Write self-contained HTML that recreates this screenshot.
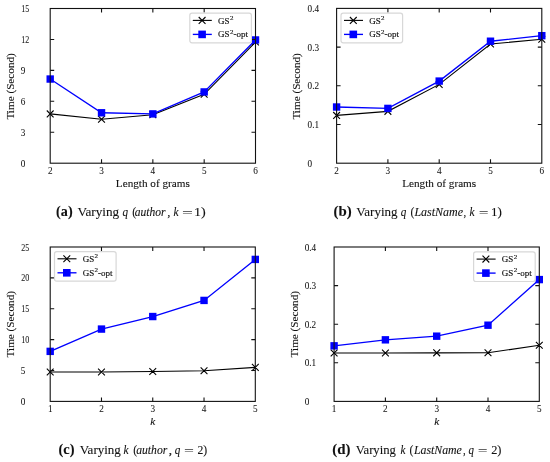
<!DOCTYPE html>
<html><head><meta charset="utf-8"><title>Figure</title><style>
html,body{margin:0;padding:0;background:#fff;}
body{width:550px;height:462px;overflow:hidden;}
svg{display:block;}
text{font-family:'Liberation Serif', 'Times New Roman', serif;fill:#111;stroke:#111;stroke-width:0.22;}
.ax{fill:none;stroke:#111;stroke-width:1.1;}
.tl{font-size:9.9px;stroke-width:0.05;}
.al{font-size:11.2px;stroke-width:0.1;}
.it{font-style:italic;}
.lk{fill:none;stroke:#000;stroke-width:1.1;}
.mk{fill:none;stroke:#000;stroke-width:1.1;}
.lb{fill:none;stroke:#0000ff;stroke-width:1.35;}
.lg{fill:#fff;stroke:#d8d8d8;stroke-width:1.2;}
.lt{font-size:9px;stroke-width:0.15;}
.sup{font-size:7px;}
.cp{font-size:13px;stroke-width:0.1;}
.cb{font-weight:bold;font-size:14.5px;}
.ci{font-style:italic;}
.eq{stroke-width:0;fill:#333;}
</style></head>
<body><svg width="550" height="462" viewBox="0 0 550 462">
<rect width="550" height="462" fill="#fff"/>
<g id="chart-a"><text x="20.8" y="166.75" class="tl" textLength="4.6" lengthAdjust="spacingAndGlyphs">0</text>
<text x="20.8" y="135.81" class="tl" textLength="4.6" lengthAdjust="spacingAndGlyphs">3</text>
<text x="20.8" y="104.87" class="tl" textLength="4.6" lengthAdjust="spacingAndGlyphs">6</text>
<text x="20.8" y="73.93" class="tl" textLength="4.6" lengthAdjust="spacingAndGlyphs">9</text>
<text x="21.3" y="42.99" class="tl" textLength="8" lengthAdjust="spacingAndGlyphs">12</text>
<text x="21.3" y="12.05" class="tl" textLength="8" lengthAdjust="spacingAndGlyphs">15</text>
<text x="47.9" y="174.4" class="tl" textLength="4.6" lengthAdjust="spacingAndGlyphs">2</text>
<text x="99.23" y="174.4" class="tl" textLength="4.6" lengthAdjust="spacingAndGlyphs">3</text>
<text x="150.55" y="174.4" class="tl" textLength="4.6" lengthAdjust="spacingAndGlyphs">4</text>
<text x="201.88" y="174.4" class="tl" textLength="4.6" lengthAdjust="spacingAndGlyphs">5</text>
<text x="253.2" y="174.4" class="tl" textLength="4.6" lengthAdjust="spacingAndGlyphs">6</text>
<text x="152.85" y="187.1" class="al" text-anchor="middle">Length of grams</text>
<text transform="translate(13.6 86.4) rotate(-90)" class="al" text-anchor="middle">Time (Second)</text>
<polyline points="50.2,113.9 101.53,119.27 152.85,114.73 204.18,94.31 255.5,42.02" class="lk"/>
<path d="M46.8 110.5l6.8 6.8M46.8 117.3l6.8 -6.8M98.12 115.87l6.8 6.8M98.12 122.67l6.8 -6.8M149.45 111.33l6.8 6.8M149.45 118.13l6.8 -6.8M200.78 90.91l6.8 6.8M200.78 97.71l6.8 -6.8M252.1 38.62l6.8 6.8M252.1 45.42l6.8 -6.8" class="mk"/>
<polyline points="50.2,79.04 101.53,112.77 152.85,113.9 204.18,91.93 255.5,39.96" class="lb"/>
<rect x="46.5" y="75.34" width="7.4" height="7.4" fill="#0000ff"/>
<rect x="97.83" y="109.07" width="7.4" height="7.4" fill="#0000ff"/>
<rect x="149.15" y="110.2" width="7.4" height="7.4" fill="#0000ff"/>
<rect x="200.48" y="88.23" width="7.4" height="7.4" fill="#0000ff"/>
<rect x="251.8" y="36.26" width="7.4" height="7.4" fill="#0000ff"/>
<path d="M101.53 163.2v-4.0M101.53 8.5v4.0M152.85 163.2v-4.0M152.85 8.5v4.0M204.18 163.2v-4.0M204.18 8.5v4.0M50.2 132.26h4.0M255.5 132.26h-4.0M50.2 101.32h4.0M255.5 101.32h-4.0M50.2 70.38h4.0M255.5 70.38h-4.0M50.2 39.44h4.0M255.5 39.44h-4.0" class="ax"/>
<rect x="50.2" y="8.5" width="205.3" height="154.7" class="ax"/>
<rect x="189.8" y="13.2" width="61.6" height="29.6" rx="2.2" class="lg"/>
<path d="M192.8 20.4h19" class="lk"/>
<path d="M198.7 17l6.8 6.8M198.7 23.8l6.8 -6.8" class="mk"/>
<path d="M192.8 34.4h19" class="lb"/>
<rect x="198.3" y="30.6" width="7.6" height="7.6" fill="#0000ff"/>
<text x="218" y="23.7" class="lt">GS<tspan class="sup" dx="0.4" dy="-3.7">2</tspan></text>
<text x="218" y="37.4" class="lt">GS<tspan class="sup" dx="0.4" dy="-3.7">2</tspan><tspan dy="3.7">-opt</tspan></text>
<text x="56.08" y="216" class="cp cb" textLength="16.55" lengthAdjust="spacingAndGlyphs">(a)</text>
<text x="77.45" y="216" class="cp" textLength="41.8" lengthAdjust="spacingAndGlyphs">Varying</text>
<text x="122.43" y="216" class="cp ci" textLength="5.53" lengthAdjust="spacingAndGlyphs">q</text>
<text x="132.19" y="216" class="cp" textLength="3.9" lengthAdjust="spacingAndGlyphs">(</text>
<text x="134.85" y="216" class="cp ci" textLength="30.71" lengthAdjust="spacingAndGlyphs">author</text>
<text x="167.32" y="216" class="cp" textLength="3.19" lengthAdjust="spacingAndGlyphs">,</text>
<text x="173.57" y="216" class="cp ci" textLength="5.07" lengthAdjust="spacingAndGlyphs">k</text>
<text x="182.03" y="217" class="cp eq" textLength="10.92" lengthAdjust="spacingAndGlyphs">=</text>
<text x="194.06" y="216" class="cp" textLength="11.76" lengthAdjust="spacingAndGlyphs">1)</text></g>
<g id="chart-b"><text x="307.6" y="166.75" class="tl" textLength="4.6" lengthAdjust="spacingAndGlyphs">0</text>
<text x="307.6" y="128.05" class="tl" textLength="11.5" lengthAdjust="spacingAndGlyphs">0.1</text>
<text x="307.6" y="89.35" class="tl" textLength="11.5" lengthAdjust="spacingAndGlyphs">0.2</text>
<text x="307.6" y="50.65" class="tl" textLength="11.5" lengthAdjust="spacingAndGlyphs">0.3</text>
<text x="307.6" y="11.95" class="tl" textLength="11.5" lengthAdjust="spacingAndGlyphs">0.4</text>
<text x="334.3" y="174.4" class="tl" textLength="4.6" lengthAdjust="spacingAndGlyphs">2</text>
<text x="385.6" y="174.4" class="tl" textLength="4.6" lengthAdjust="spacingAndGlyphs">3</text>
<text x="436.9" y="174.4" class="tl" textLength="4.6" lengthAdjust="spacingAndGlyphs">4</text>
<text x="488.2" y="174.4" class="tl" textLength="4.6" lengthAdjust="spacingAndGlyphs">5</text>
<text x="539.5" y="174.4" class="tl" textLength="4.6" lengthAdjust="spacingAndGlyphs">6</text>
<text x="439.2" y="187.1" class="al" text-anchor="middle">Length of grams</text>
<text transform="translate(300 86.4) rotate(-90)" class="al" text-anchor="middle">Time (Second)</text>
<polyline points="336.6,115.41 387.9,111.34 439.2,84.41 490.5,44 541.8,39.21" class="lk"/>
<path d="M333.2 112.01l6.8 6.8M333.2 118.81l6.8 -6.8M384.5 107.94l6.8 6.8M384.5 114.74l6.8 -6.8M435.8 81.01l6.8 6.8M435.8 87.81l6.8 -6.8M487.1 40.6l6.8 6.8M487.1 47.4l6.8 -6.8M538.4 35.81l6.8 6.8M538.4 42.61l6.8 -6.8" class="mk"/>
<polyline points="336.6,107.01 387.9,108.4 439.2,81.08 490.5,41.22 541.8,35.68" class="lb"/>
<rect x="332.9" y="103.31" width="7.4" height="7.4" fill="#0000ff"/>
<rect x="384.2" y="104.7" width="7.4" height="7.4" fill="#0000ff"/>
<rect x="435.5" y="77.38" width="7.4" height="7.4" fill="#0000ff"/>
<rect x="486.8" y="37.52" width="7.4" height="7.4" fill="#0000ff"/>
<rect x="538.1" y="31.98" width="7.4" height="7.4" fill="#0000ff"/>
<path d="M387.9 163.2v-4.0M387.9 8.4v4.0M439.2 163.2v-4.0M439.2 8.4v4.0M490.5 163.2v-4.0M490.5 8.4v4.0M336.6 124.5h4.0M541.8 124.5h-4.0M336.6 85.8h4.0M541.8 85.8h-4.0M336.6 47.1h4.0M541.8 47.1h-4.0" class="ax"/>
<rect x="336.6" y="8.4" width="205.2" height="154.8" class="ax"/>
<rect x="341" y="13.2" width="61.6" height="29.6" rx="2.2" class="lg"/>
<path d="M344 20.4h19" class="lk"/>
<path d="M349.9 17l6.8 6.8M349.9 23.8l6.8 -6.8" class="mk"/>
<path d="M344 34.4h19" class="lb"/>
<rect x="349.5" y="30.6" width="7.6" height="7.6" fill="#0000ff"/>
<text x="369.2" y="23.7" class="lt">GS<tspan class="sup" dx="0.4" dy="-3.7">2</tspan></text>
<text x="369.2" y="37.4" class="lt">GS<tspan class="sup" dx="0.4" dy="-3.7">2</tspan><tspan dy="3.7">-opt</tspan></text>
<text x="333.44" y="216" class="cp cb" textLength="18.21" lengthAdjust="spacingAndGlyphs">(b)</text>
<text x="356.36" y="216" class="cp" textLength="41.19" lengthAdjust="spacingAndGlyphs">Varying</text>
<text x="400.83" y="216" class="cp ci" textLength="5.53" lengthAdjust="spacingAndGlyphs">q</text>
<text x="410.49" y="216" class="cp" textLength="3.9" lengthAdjust="spacingAndGlyphs">(</text>
<text x="414.44" y="216" class="cp ci" textLength="48.53" lengthAdjust="spacingAndGlyphs">LastName</text>
<text x="463.39" y="216" class="cp" textLength="2.68" lengthAdjust="spacingAndGlyphs">,</text>
<text x="469.47" y="216" class="cp ci" textLength="5.07" lengthAdjust="spacingAndGlyphs">k</text>
<text x="478.83" y="217" class="cp eq" textLength="9.82" lengthAdjust="spacingAndGlyphs">=</text>
<text x="491.05" y="216" class="cp" textLength="10.93" lengthAdjust="spacingAndGlyphs">1)</text></g>
<g id="chart-c"><text x="20.8" y="404.95" class="tl" textLength="4.6" lengthAdjust="spacingAndGlyphs">0</text>
<text x="20.8" y="374.07" class="tl" textLength="4.6" lengthAdjust="spacingAndGlyphs">5</text>
<text x="21.3" y="343.19" class="tl" textLength="8" lengthAdjust="spacingAndGlyphs">10</text>
<text x="21.3" y="312.31" class="tl" textLength="8" lengthAdjust="spacingAndGlyphs">15</text>
<text x="21.3" y="281.43" class="tl" textLength="8" lengthAdjust="spacingAndGlyphs">20</text>
<text x="21.3" y="250.55" class="tl" textLength="8" lengthAdjust="spacingAndGlyphs">25</text>
<text x="47.9" y="412.2" class="tl" textLength="4.6" lengthAdjust="spacingAndGlyphs">1</text>
<text x="99.18" y="412.2" class="tl" textLength="4.6" lengthAdjust="spacingAndGlyphs">2</text>
<text x="150.45" y="412.2" class="tl" textLength="4.6" lengthAdjust="spacingAndGlyphs">3</text>
<text x="201.73" y="412.2" class="tl" textLength="4.6" lengthAdjust="spacingAndGlyphs">4</text>
<text x="253" y="412.2" class="tl" textLength="4.6" lengthAdjust="spacingAndGlyphs">5</text>
<text x="152.75" y="425.3" class="al it" text-anchor="middle">k</text>
<text transform="translate(13.6 324.2) rotate(-90)" class="al" text-anchor="middle">Time (Second)</text>
<polyline points="50.2,372.06 101.48,372.06 152.75,371.57 204.03,370.77 255.3,367.37" class="lk"/>
<path d="M46.8 368.66l6.8 6.8M46.8 375.46l6.8 -6.8M98.08 368.66l6.8 6.8M98.08 375.46l6.8 -6.8M149.35 368.17l6.8 6.8M149.35 374.97l6.8 -6.8M200.63 367.37l6.8 6.8M200.63 374.17l6.8 -6.8M251.9 363.97l6.8 6.8M251.9 370.77l6.8 -6.8" class="mk"/>
<polyline points="50.2,351.37 101.48,329.08 152.75,316.54 204.03,300.42 255.3,259.41" class="lb"/>
<rect x="46.5" y="347.67" width="7.4" height="7.4" fill="#0000ff"/>
<rect x="97.78" y="325.38" width="7.4" height="7.4" fill="#0000ff"/>
<rect x="149.05" y="312.84" width="7.4" height="7.4" fill="#0000ff"/>
<rect x="200.33" y="296.72" width="7.4" height="7.4" fill="#0000ff"/>
<rect x="251.6" y="255.71" width="7.4" height="7.4" fill="#0000ff"/>
<path d="M101.48 401.4v-4.0M101.48 247v4.0M152.75 401.4v-4.0M152.75 247v4.0M204.03 401.4v-4.0M204.03 247v4.0M50.2 370.52h4.0M255.3 370.52h-4.0M50.2 339.64h4.0M255.3 339.64h-4.0M50.2 308.76h4.0M255.3 308.76h-4.0M50.2 277.88h4.0M255.3 277.88h-4.0" class="ax"/>
<rect x="50.2" y="247" width="205.1" height="154.4" class="ax"/>
<rect x="54.5" y="251.6" width="61.6" height="29.6" rx="2.2" class="lg"/>
<path d="M57.5 258.8h19" class="lk"/>
<path d="M63.4 255.4l6.8 6.8M63.4 262.2l6.8 -6.8" class="mk"/>
<path d="M57.5 272.8h19" class="lb"/>
<rect x="63" y="269" width="7.6" height="7.6" fill="#0000ff"/>
<text x="82.7" y="262.1" class="lt">GS<tspan class="sup" dx="0.4" dy="-3.7">2</tspan></text>
<text x="82.7" y="275.8" class="lt">GS<tspan class="sup" dx="0.4" dy="-3.7">2</tspan><tspan dy="3.7">-opt</tspan></text>
<text x="58.47" y="453.8" class="cp cb" textLength="15.96" lengthAdjust="spacingAndGlyphs">(c)</text>
<text x="79.66" y="453.8" class="cp" textLength="41.19" lengthAdjust="spacingAndGlyphs">Varying</text>
<text x="123.57" y="453.8" class="cp ci" textLength="5.07" lengthAdjust="spacingAndGlyphs">k</text>
<text x="133.29" y="453.8" class="cp" textLength="3.9" lengthAdjust="spacingAndGlyphs">(</text>
<text x="136.15" y="453.8" class="cp ci" textLength="31.11" lengthAdjust="spacingAndGlyphs">author</text>
<text x="168.44" y="453.8" class="cp" textLength="3.69" lengthAdjust="spacingAndGlyphs">,</text>
<text x="174.63" y="453.8" class="cp ci" textLength="5.53" lengthAdjust="spacingAndGlyphs">q</text>
<text x="183.92" y="454.8" class="cp eq" textLength="9.95" lengthAdjust="spacingAndGlyphs">=</text>
<text x="197.39" y="453.8" class="cp" textLength="9.73" lengthAdjust="spacingAndGlyphs">2)</text></g>
<g id="chart-d"><text x="304.7" y="404.95" class="tl" textLength="4.6" lengthAdjust="spacingAndGlyphs">0</text>
<text x="304.7" y="366.35" class="tl" textLength="11.5" lengthAdjust="spacingAndGlyphs">0.1</text>
<text x="304.7" y="327.75" class="tl" textLength="11.5" lengthAdjust="spacingAndGlyphs">0.2</text>
<text x="304.7" y="289.15" class="tl" textLength="11.5" lengthAdjust="spacingAndGlyphs">0.3</text>
<text x="304.7" y="250.55" class="tl" textLength="11.5" lengthAdjust="spacingAndGlyphs">0.4</text>
<text x="331.8" y="412.2" class="tl" textLength="4.6" lengthAdjust="spacingAndGlyphs">1</text>
<text x="383.1" y="412.2" class="tl" textLength="4.6" lengthAdjust="spacingAndGlyphs">2</text>
<text x="434.4" y="412.2" class="tl" textLength="4.6" lengthAdjust="spacingAndGlyphs">3</text>
<text x="485.7" y="412.2" class="tl" textLength="4.6" lengthAdjust="spacingAndGlyphs">4</text>
<text x="537" y="412.2" class="tl" textLength="4.6" lengthAdjust="spacingAndGlyphs">5</text>
<text x="436.7" y="425.3" class="al it" text-anchor="middle">k</text>
<text transform="translate(297.5 324.2) rotate(-90)" class="al" text-anchor="middle">Time (Second)</text>
<polyline points="334.1,353 385.4,353 436.7,352.84 488,352.76 539.3,345.24" class="lk"/>
<path d="M330.7 349.6l6.8 6.8M330.7 356.4l6.8 -6.8M382 349.6l6.8 6.8M382 356.4l6.8 -6.8M433.3 349.44l6.8 6.8M433.3 356.24l6.8 -6.8M484.6 349.36l6.8 6.8M484.6 356.16l6.8 -6.8M535.9 341.84l6.8 6.8M535.9 348.64l6.8 -6.8" class="mk"/>
<polyline points="334.1,345.82 385.4,339.83 436.7,336.17 488,325.2 539.3,279.58" class="lb"/>
<rect x="330.4" y="342.12" width="7.4" height="7.4" fill="#0000ff"/>
<rect x="381.7" y="336.13" width="7.4" height="7.4" fill="#0000ff"/>
<rect x="433" y="332.47" width="7.4" height="7.4" fill="#0000ff"/>
<rect x="484.3" y="321.5" width="7.4" height="7.4" fill="#0000ff"/>
<rect x="535.6" y="275.88" width="7.4" height="7.4" fill="#0000ff"/>
<path d="M385.4 401.4v-4.0M385.4 247v4.0M436.7 401.4v-4.0M436.7 247v4.0M488 401.4v-4.0M488 247v4.0M334.1 362.8h4.0M539.3 362.8h-4.0M334.1 324.2h4.0M539.3 324.2h-4.0M334.1 285.6h4.0M539.3 285.6h-4.0" class="ax"/>
<rect x="334.1" y="247" width="205.2" height="154.4" class="ax"/>
<rect x="473.6" y="251.9" width="61.6" height="29.6" rx="2.2" class="lg"/>
<path d="M476.6 259.1h19" class="lk"/>
<path d="M482.5 255.7l6.8 6.8M482.5 262.5l6.8 -6.8" class="mk"/>
<path d="M476.6 273.1h19" class="lb"/>
<rect x="482.1" y="269.3" width="7.6" height="7.6" fill="#0000ff"/>
<text x="501.8" y="262.4" class="lt">GS<tspan class="sup" dx="0.4" dy="-3.7">2</tspan></text>
<text x="501.8" y="276.1" class="lt">GS<tspan class="sup" dx="0.4" dy="-3.7">2</tspan><tspan dy="3.7">-opt</tspan></text>
<text x="332.34" y="453.8" class="cp cb" textLength="18.21" lengthAdjust="spacingAndGlyphs">(d)</text>
<text x="355.76" y="453.8" class="cp" textLength="40.18" lengthAdjust="spacingAndGlyphs">Varying</text>
<text x="400.38" y="453.8" class="cp ci" textLength="4.97" lengthAdjust="spacingAndGlyphs">k</text>
<text x="409.39" y="453.8" class="cp" textLength="3.9" lengthAdjust="spacingAndGlyphs">(</text>
<text x="413.94" y="453.8" class="cp ci" textLength="47.93" lengthAdjust="spacingAndGlyphs">LastName</text>
<text x="462.89" y="453.8" class="cp" textLength="2.68" lengthAdjust="spacingAndGlyphs">,</text>
<text x="468.44" y="453.8" class="cp ci" textLength="5.42" lengthAdjust="spacingAndGlyphs">q</text>
<text x="477.73" y="454.8" class="cp eq" textLength="9.82" lengthAdjust="spacingAndGlyphs">=</text>
<text x="491.16" y="453.8" class="cp" textLength="10.29" lengthAdjust="spacingAndGlyphs">2)</text></g>
</svg></body></html>
